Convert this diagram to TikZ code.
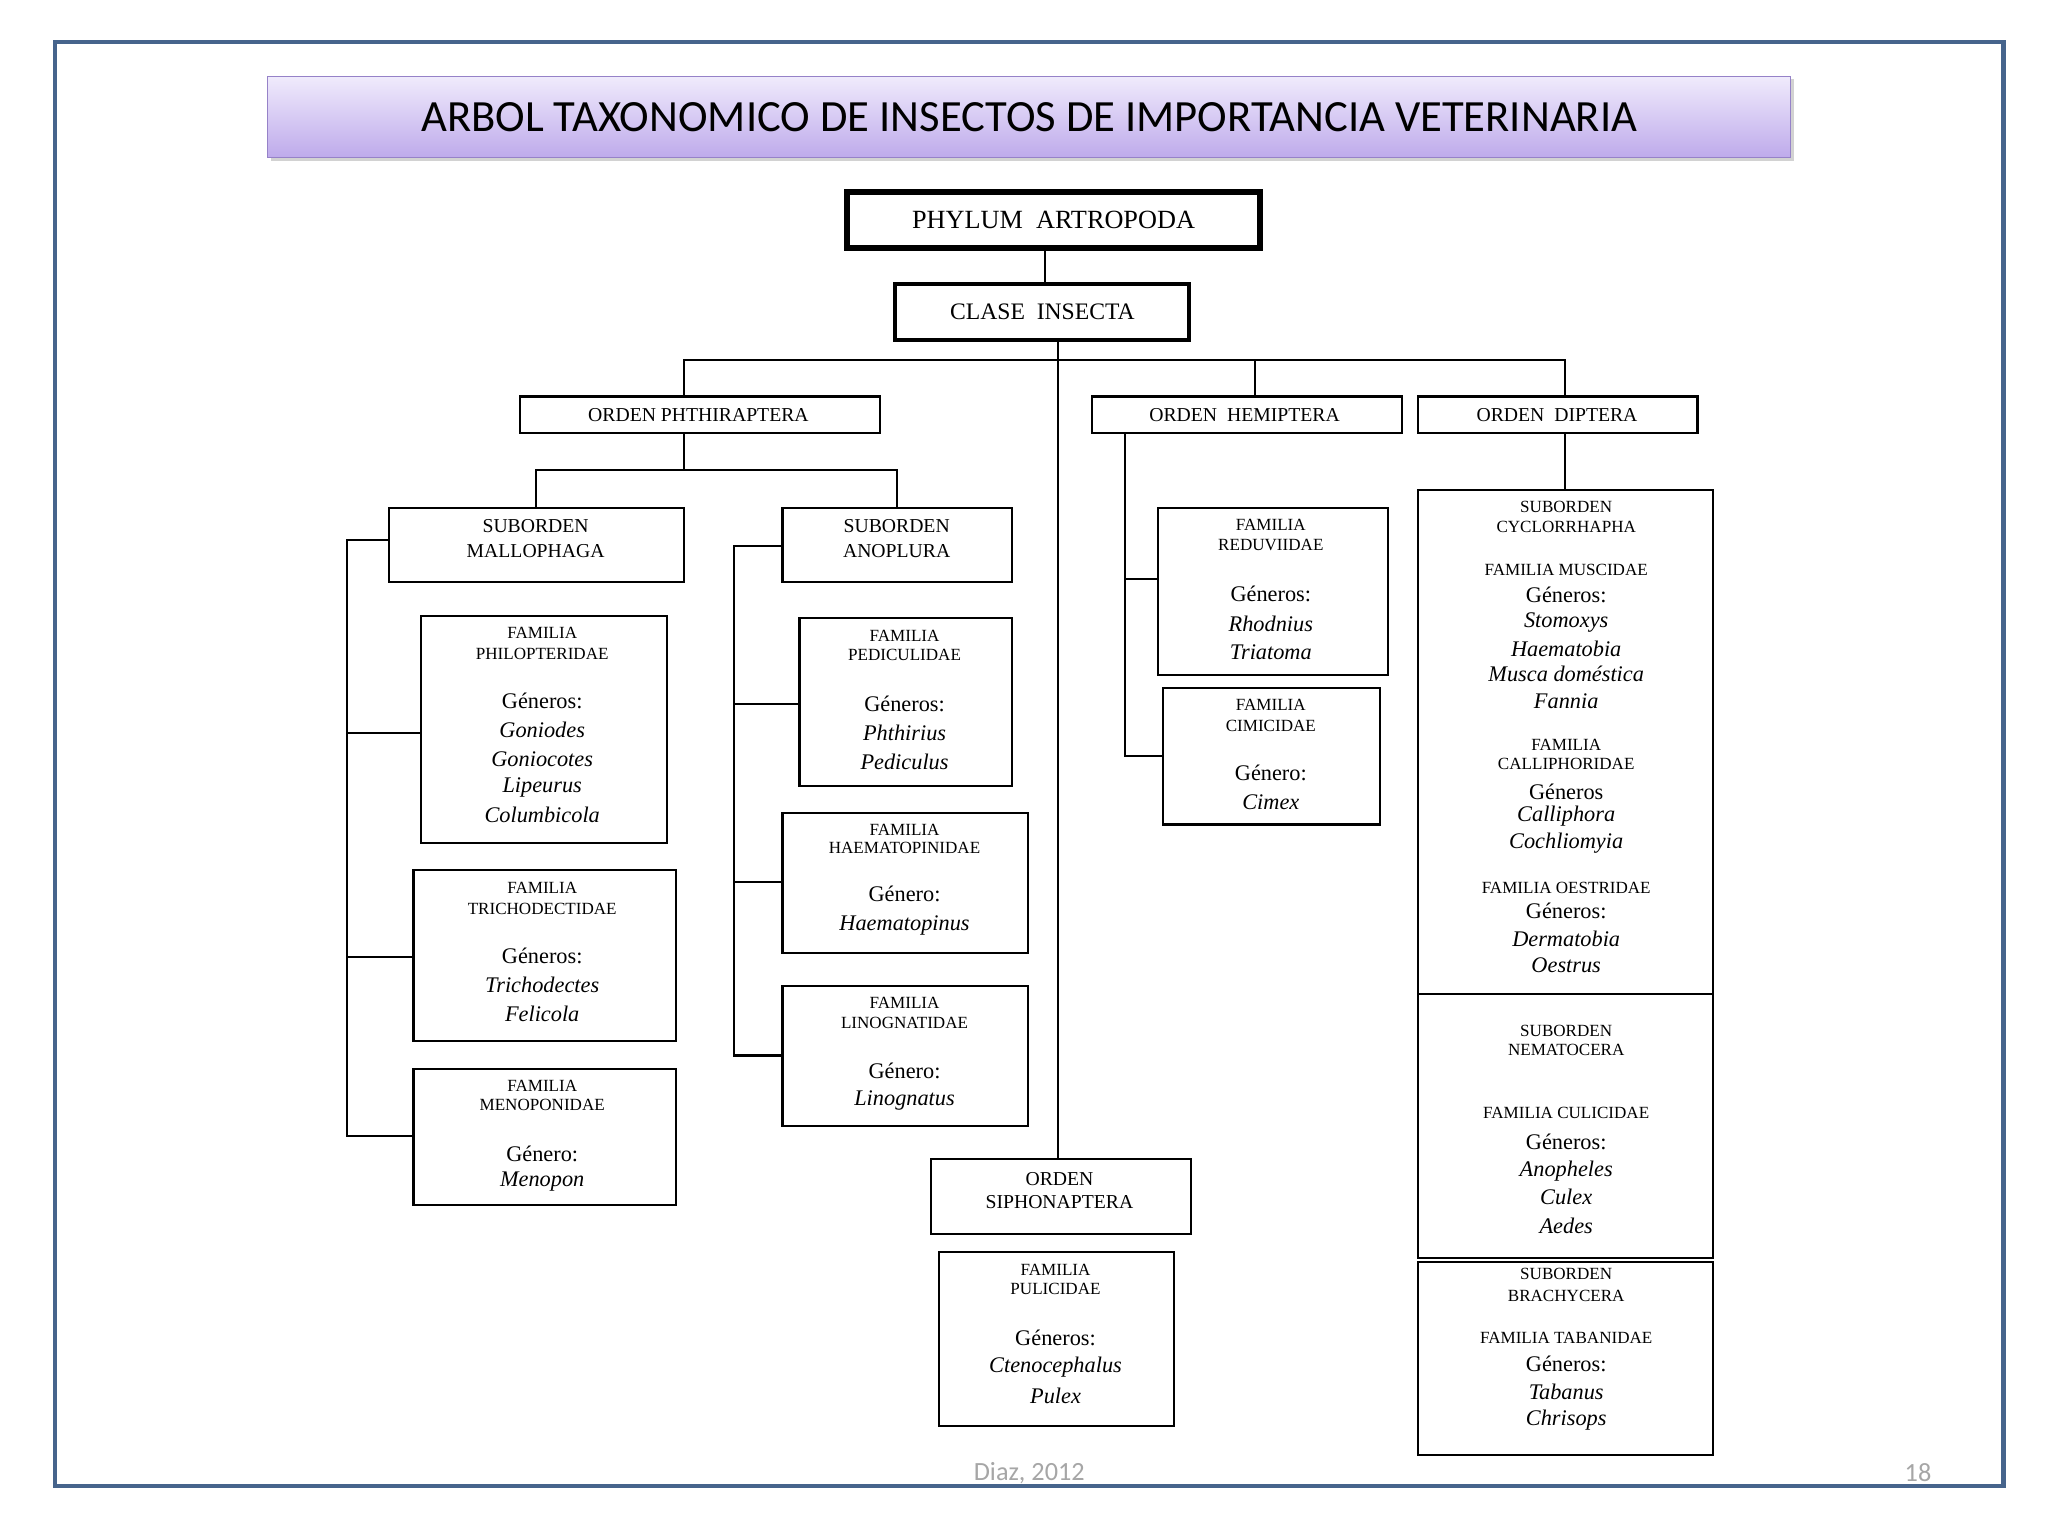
\documentclass[tikz,border=0pt]{standalone}
\usepackage{fontspec}
\setmainfont{Liberation Serif}
\newfontfamily\titlefont{Carlito}
\usetikzlibrary{shadows}
\newcounter{tn}
\tikzset{
 bx/.style={draw=black,line width=1.6pt},
 ln/.style={draw=black,line width=1.6pt},
 hd/.style={font=\fontsize{13}{13}\selectfont,inner sep=0pt},
 gn/.style={font=\fontsize{17}{17}\selectfont,inner sep=0pt},
 gi/.style={font=\fontsize{17}{17}\selectfont\itshape,inner sep=0pt},
 ob/.style={font=\fontsize{15}{15}\selectfont,inner sep=0pt}
}
\newcommand{\tx}[4]{\stepcounter{tn}\node[#1] (t\arabic{tn}) at (#2,#3) {#4};}
\begin{document}
\begin{tikzpicture}[x=1pt,y=-1pt]
\useasboundingbox (0,0) rectangle (1560,1170);
\fill[white] (0,0) rectangle (1560,1170);
\draw[draw={rgb,255:red,70;green,100;blue,140},line width=3.5pt] (42,32) rectangle (1526,1132);
% title
\node[draw={rgb,255:red,150;green,130;blue,200},line width=0.8pt,top color={rgb,255:red,240;green,235;blue,252},bottom color={rgb,255:red,190;green,170;blue,235},drop shadow={opacity=0.35},minimum width=1160pt,minimum height=62pt,inner sep=0pt,font=\titlefont\fontsize{34}{34}\selectfont] (title) at (784,89) {ARBOL TAXONOMICO DE INSECTOS DE IMPORTANCIA VETERINARIA};
% boxes
\draw[bx,line width=4.5pt] (645,146) rectangle (960,189) node[midway,font=\fontsize{20}{20}\selectfont] (phy) {PHYLUM\ \ ARTROPODA};
\draw[bx,line width=3pt] (682,216) rectangle (906,259) node[midway,font=\fontsize{18}{18}\selectfont] (cla) {CLASE\ \ INSECTA};
\draw[bx] (396,302) rectangle (670,330);
\draw[bx] (832,302) rectangle (1068,330);
\draw[bx] (1080,302) rectangle (1293,330);
\draw[bx] (296,387) rectangle (521,443);
\draw[bx] (596,387) rectangle (771,443);
\draw[bx] (321,469) rectangle (508,642);
\draw[bx] (315,663) rectangle (515,793);
\draw[bx] (315,814) rectangle (515,918);
\draw[bx] (609,471) rectangle (771,599);
\draw[bx] (596,619) rectangle (783,726);
\draw[bx] (596,751) rectangle (783,858);
\draw[bx] (709,883) rectangle (907,940);
\draw[bx] (715,954) rectangle (894,1086);
\draw[bx] (882,387) rectangle (1057,514);
\draw[bx] (886,524) rectangle (1051,628);
\draw[bx] (1080,373) rectangle (1305,757);
\draw[bx] (1080,757) rectangle (1305,958);
\draw[bx] (1080,961) rectangle (1305,1108);
% connectors
\draw[ln] (796,189) -- (796,216);
\draw[ln] (806,259) -- (806,883);
\draw[ln] (521,302) -- (521,274) -- (1192,274) -- (1192,302);
\draw[ln] (956,274) -- (956,302);
\draw[ln] (521,330) -- (521,358);
\draw[ln] (408,387) -- (408,358) -- (683,358) -- (683,387);
\draw[ln] (296,411) -- (264,411) -- (264,865) -- (315,865);
\draw[ln] (264,558) -- (321,558);
\draw[ln] (264,729) -- (315,729);
\draw[ln] (596,416) -- (559,416) -- (559,804) -- (596,804);
\draw[ln] (559,536) -- (609,536);
\draw[ln] (559,672) -- (596,672);
\draw[ln] (857,330) -- (857,576) -- (886,576);
\draw[ln] (857,441) -- (882,441);
\draw[ln] (1192,330) -- (1192,373);
% texts
\tx{ob}{532}{316}{ORDEN PHTHIRAPTERA}
\tx{ob}{948}{316}{ORDEN\ \ HEMIPTERA}
\tx{ob}{1186}{316}{ORDEN\ \ DIPTERA}
\tx{ob}{408}{401}{SUBORDEN}\tx{ob}{408}{420}{MALLOPHAGA}
\tx{ob}{683}{401}{SUBORDEN}\tx{ob}{683}{420}{ANOPLURA}
\tx{hd}{413}{482}{FAMILIA}\tx{hd}{413}{498}{PHILOPTERIDAE}
\tx{gn}{413}{534}{Géneros:}\tx{gi}{413}{556}{Goniodes}\tx{gi}{413}{578}{Goniocotes}\tx{gi}{413}{600}{Lipeurus}\tx{gi}{413}{621}{Columbicola}
\tx{hd}{413}{676}{FAMILIA}\tx{hd}{413}{692}{TRICHODECTIDAE}
\tx{gn}{413}{728}{Géneros:}\tx{gi}{413}{750}{Trichodectes}\tx{gi}{413}{772}{Felicola}
\tx{hd}{413}{827}{FAMILIA}\tx{hd}{413}{842}{MENOPONIDAE}
\tx{gn}{413}{879}{Género:}\tx{gi}{413}{900}{Menopon}
\tx{hd}{689}{484}{FAMILIA}\tx{hd}{689}{499}{PEDICULIDAE}
\tx{gn}{689}{536}{Géneros:}\tx{gi}{689}{558}{Phthirius}\tx{gi}{689}{580}{Pediculus}
\tx{hd}{689}{632}{FAMILIA}\tx{hd}{689}{646}{HAEMATOPINIDAE}
\tx{gn}{689}{681}{Género:}\tx{gi}{689}{705}{Haematopinus}
\tx{hd}{689}{764}{FAMILIA}\tx{hd}{689}{779}{LINOGNATIDAE}
\tx{gn}{689}{816}{Género:}\tx{gi}{689}{838}{Linognatus}
\tx{ob}{807}{898}{ORDEN}\tx{ob}{807}{916}{SIPHONAPTERA}
\tx{hd}{804}{967}{FAMILIA}\tx{hd}{804}{982}{PULICIDAE}
\tx{gn}{804}{1019}{Géneros:}\tx{gi}{804}{1041}{Ctenocephalus}\tx{gi}{804}{1063}{Pulex}
\tx{hd}{968}{400}{FAMILIA}\tx{hd}{968}{415}{REDUVIIDAE}
\tx{gn}{968}{452}{Géneros:}\tx{gi}{968}{475}{Rhodnius}\tx{gi}{968}{497}{Triatoma}
\tx{hd}{968}{537}{FAMILIA}\tx{hd}{968}{553}{CIMICIDAE}
\tx{gn}{968}{589}{Género:}\tx{gi}{968}{611}{Cimex}
\tx{hd}{1193}{386}{SUBORDEN}\tx{hd}{1193}{401}{CYCLORRHAPHA}
\tx{hd}{1193}{434}{FAMILIA MUSCIDAE}\tx{gn}{1193}{453}{Géneros:}
\tx{gi}{1193}{474}{Stomoxys}\tx{gi}{1193}{494}{Haematobia}\tx{gi}{1193}{513}{Musca doméstica}\tx{gi}{1193}{534}{Fannia}
\tx{hd}{1193}{567}{FAMILIA}\tx{hd}{1193}{582}{CALLIPHORIDAE}\tx{gn}{1193}{603}{Géneros}
\tx{gi}{1193}{622}{Calliphora}\tx{gi}{1193}{642}{Cochliomyia}
\tx{hd}{1193}{676}{FAMILIA OESTRIDAE}\tx{gn}{1193}{694}{Géneros:}
\tx{gi}{1193}{715}{Dermatobia}\tx{gi}{1193}{735}{Oestrus}
\tx{hd}{1193}{785}{SUBORDEN}\tx{hd}{1193}{800}{NEMATOCERA}
\tx{hd}{1193}{848}{FAMILIA CULICIDAE}\tx{gn}{1193}{870}{Géneros:}
\tx{gi}{1193}{892}{Anopheles}\tx{gi}{1193}{912}{Culex}\tx{gi}{1193}{934}{Aedes}
\tx{hd}{1193}{970}{SUBORDEN}\tx{hd}{1193}{987}{BRACHYCERA}
\tx{hd}{1193}{1019}{FAMILIA TABANIDAE}\tx{gn}{1193}{1039}{Géneros:}
\tx{gi}{1193}{1060}{Tabanus}\tx{gi}{1193}{1082}{Chrisops}
\node[font=\titlefont\fontsize{20}{20}\selectfont,text=gray!70,inner sep=0pt] (ft1) at (784,1122) {Diaz, 2012};
\node[font=\titlefont\fontsize{20}{20}\selectfont,text=gray!70,inner sep=0pt] (ft2) at (1461,1122) {18};
\end{tikzpicture}
\end{document}
